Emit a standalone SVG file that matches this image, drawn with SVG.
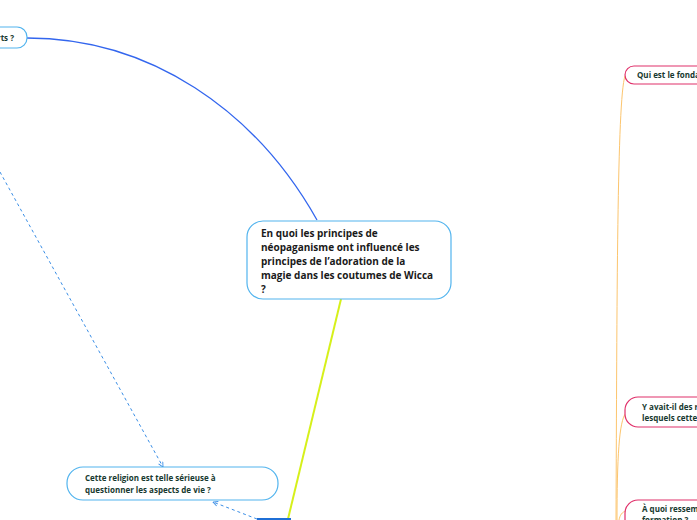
<svg xmlns="http://www.w3.org/2000/svg" width="697" height="520" viewBox="0 0 697 520">
<defs>
<style>
.n{fill:#fff;stroke:#52b4ee;stroke-width:1.2}
.m{fill:#fff;stroke:#e0306a;stroke-width:1.2}
.t{font-family:"Open Sans",sans-serif;font-weight:700;fill:#17392f;font-size:8px}
.c{font-family:"Open Sans",sans-serif;font-weight:700;fill:#1a1a1a;font-size:10px}
.o{fill:none;stroke:#fcc56e;stroke-width:1}
.d{fill:none;stroke:#3a8ee6;stroke-width:1;stroke-dasharray:3,3}
</style>
<marker id="ah" viewBox="0 0 10 10" refX="9" refY="5" markerWidth="6" markerHeight="6" orient="auto">
<path d="M1,1 L9,5 L1,9" fill="none" stroke="#3a8ee6" stroke-width="1.5"/>
</marker>
</defs>
<g id="connectors">
<path d="M27,38 C150,38 255,110 317,220" fill="none" stroke="#3366ee" stroke-width="1.3"/>
<path d="M341,299 L288,519" fill="none" stroke="#d6f01a" stroke-width="2"/>
<path class="d" d="M0,172 L163,467" marker-end="url(#ah)"/>
<path class="d" d="M257,519 L213,502" marker-end="url(#ah)"/>
<path class="o" d="M616,520 C617,300 617,100 625,76"/>
<path class="o" d="M617,520 C617,460 619,420 626,413"/>
<path class="o" d="M619,520 C620,515 622,512 626,511"/>
</g>
<g id="node-top">
<rect class="n" x="-30" y="27" width="57" height="21" rx="10"/>
<text class="t" x="-3" y="41">rts ?</text>
</g>
<g id="node-center">
<rect class="n" x="247" y="221" width="204" height="78" rx="16"/>
<text class="c" x="261" y="237">En quoi les principes de</text>
<text class="c" x="261" y="251">néopaganisme ont influencé les</text>
<text class="c" x="261" y="265">principes de l’adoration de la</text>
<text class="c" x="261" y="279">magie dans les coutumes de Wicca</text>
<text class="c" x="261" y="293">?</text>
</g>
<g id="node-cette">
<rect class="n" x="67" y="467" width="211" height="33" rx="16"/>
<text class="t" x="85" y="481">Cette religion est telle sérieuse à</text>
<text class="t" x="85" y="493">questionner les aspects de vie ?</text>
</g>
<g id="node-bottom">
<rect x="257" y="518" width="34" height="4" fill="#1f6fd6"/>
</g>
<g id="node-qui">
<rect class="m" x="625" y="66" width="100" height="18" rx="9"/>
<text class="t" x="637" y="78">Qui est le fonda</text>
</g>
<g id="node-y">
<rect class="m" x="625" y="397" width="100" height="30" rx="13"/>
<text class="t" x="642" y="410">Y avait-il des r</text>
<text class="t" x="642" y="421">lesquels cette</text>
</g>
<g id="node-a">
<rect class="m" x="625" y="500" width="100" height="32" rx="13"/>
<text class="t" x="642" y="512">À quoi ressem</text>
<text class="t" x="642" y="523">formation ?</text>
</g>
</svg>
